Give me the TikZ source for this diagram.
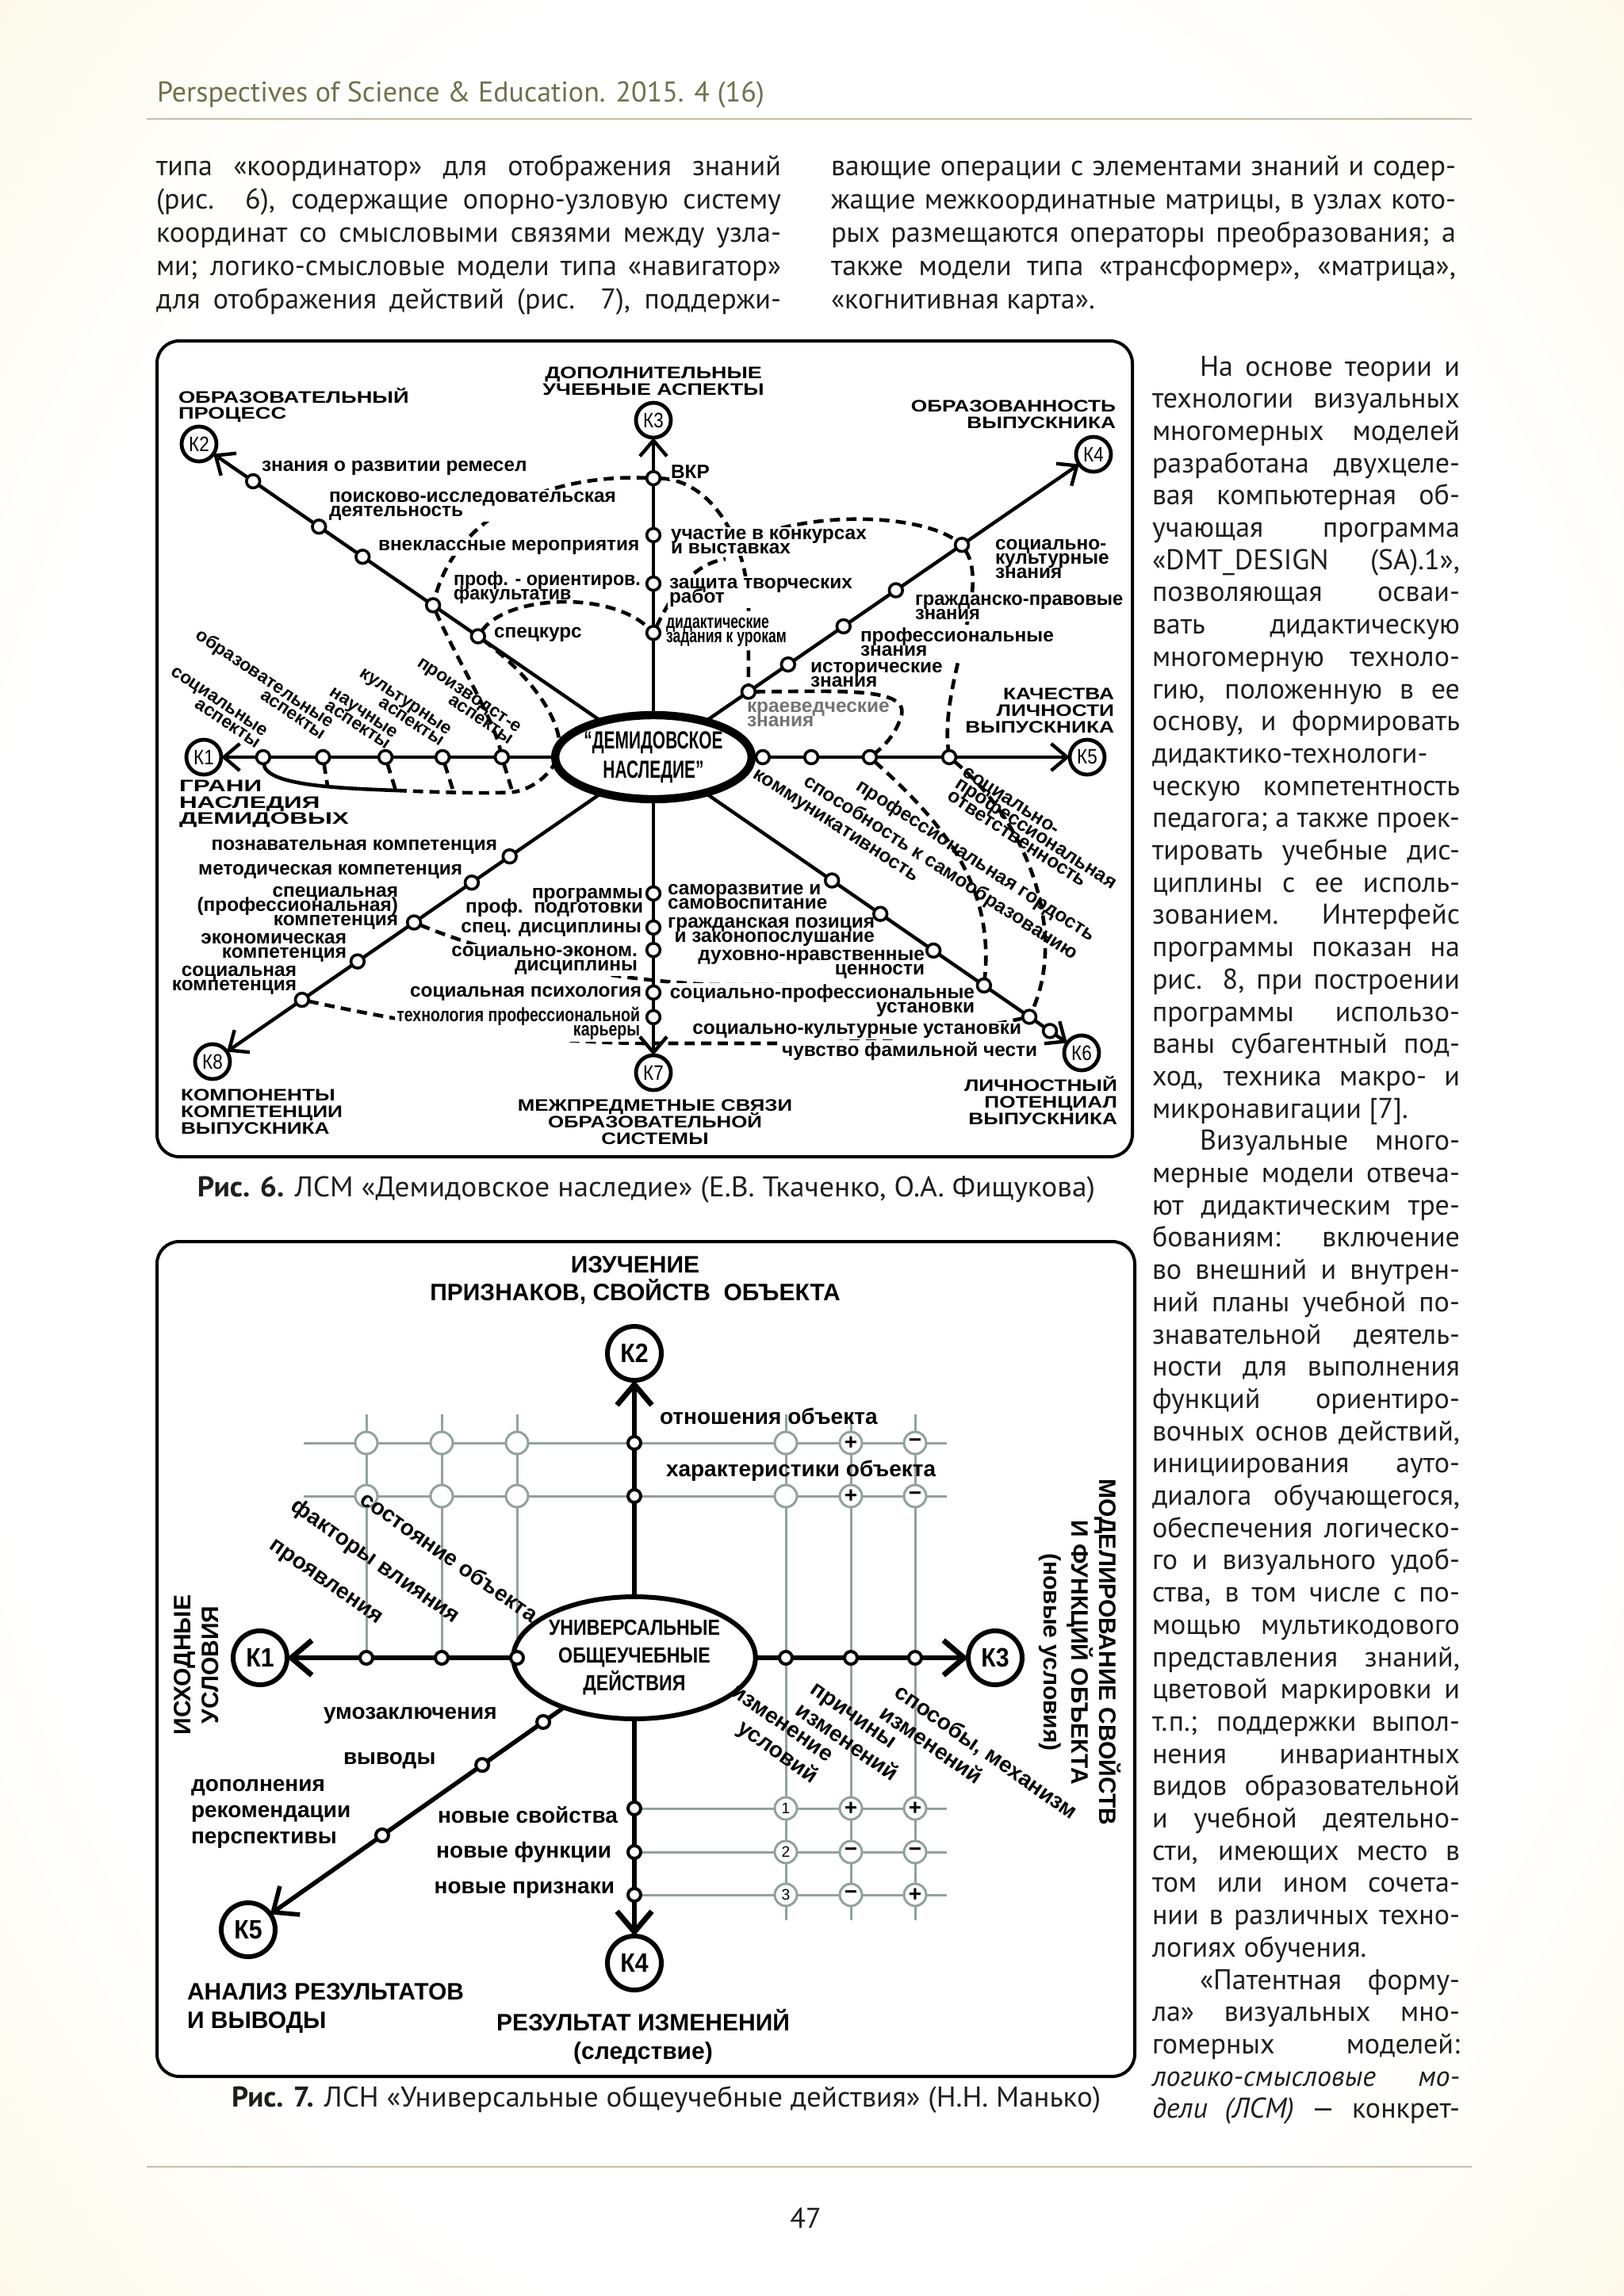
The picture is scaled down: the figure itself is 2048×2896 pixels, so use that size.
\documentclass[tikz,border=0pt]{standalone}
\usepackage{fontspec}
\usepackage{graphicx}
\usetikzlibrary{arrows.meta,calc,shapes.geometric}
\setmainfont{PT Sans}
\newfontfamily\arf{Liberation Sans}
\definecolor{pagecream}{RGB}{249,244,216}
\definecolor{pagecreamB}{RGB}{242,235,195}
\definecolor{headcol}{RGB}{110,112,76}
\definecolor{rulecol}{RGB}{196,190,160}
\definecolor{bodycol}{RGB}{30,30,30}
\definecolor{gridcol}{RGB}{145,162,157}
\pgfdeclarelayer{pagebg}\pgfdeclarelayer{under}\pgfdeclarelayer{labl}
\pgfsetlayers{pagebg,under,labl,main}
\pgfdeclareradialshading{pagesh}{\pgfpoint{0bp}{0bp}}{color(0bp)=(white); color(26bp)=(white); color(44bp)=(pagecream); color(72bp)=(pagecreamB)}
\newsavebox\jlbox
\newcommand\jl[2]{\sbox\jlbox{#2}\ifdim\wd\jlbox>#1\relax\resizebox{#1}{\height}{#2}\else\makebox[#1][s]{#2}\fi}
\def\stkL#1#2{\scalebox{#1}[1]{\vbox{\lineskiplimit=-30pt\let\\\cr\halign{##\hfil\cr#2\crcr}}}}
\def\stkR#1#2{\scalebox{#1}[1]{\vbox{\lineskiplimit=-30pt\let\\\cr\halign{\hfil##\cr#2\crcr}}}}
\def\stkC#1#2{\scalebox{#1}[1]{\vbox{\lineskiplimit=-30pt\let\\\cr\halign{\hfil##\hfil\cr#2\crcr}}}}
\newcommand\bodyf{\fontsize{9}{10.5}\selectfont}
\newcommand\fhead{\fontsize{9}{10}\selectfont}
\newcommand\fsix{\arf\bfseries\fontsize{6.1}{4.5}\selectfont}
\newcommand\fsixr{\arf\bfseries\fontsize{5.7}{4.4}\selectfont}
\newcommand\fcap{\arf\bfseries\fontsize{5.25}{5.2}\selectfont}
\newcommand\fkay{\arf\fontsize{6.6}{7}\selectfont}
\newcommand\fdem{\arf\bfseries\fontsize{7.8}{9.2}\selectfont}
\newcommand\fsev{\arf\bfseries\fontsize{7}{8.2}\selectfont}
\newcommand\fcapsev{\arf\bfseries\fontsize{7.5}{8.8}\selectfont}
\newcommand\funiv{\arf\bfseries\fontsize{6.9}{8.75}\selectfont}
\newcommand\fkayb{\arf\bfseries\fontsize{8.4}{9}\selectfont}
\newcommand\fgc{\arf\bfseries\fontsize{7}{7}\selectfont}
\newcommand\fgn{\arf\fontsize{4.8}{5}\selectfont}
\newcommand\tj[4]{\node[body] (#1) at (#2,#3+9) {\jl{197pt}{#4}};}
\newcommand\nlj[2]{\pgfmathsetmacro\yy{474+40.7*(#1-1)}\node[body] (n#1) at (1453,\yy) {\jl{97pt}{#2}};}
\newcommand\nli[2]{\pgfmathsetmacro\yy{474+40.7*(#1-1)}\node[body] (n#1) at (1513,\yy) {\jl{82pt}{#2}};}
\newcommand\nlf[2]{\pgfmathsetmacro\yy{474+40.7*(#1-1)}\node[body] (n#1) at (1453,\yy) {#2};}
\tikzset{
 every node/.style={inner sep=0pt, outer sep=0pt},
 body/.style={anchor=base west, font=\bodyf, text=bodycol},
 ax6/.style={line width=1.1pt, -{Straight Barb[length=5pt,width=8.5pt]}},
 k6/.style={circle, draw, fill=white, line width=1.2pt, minimum size=11pt, font=\fkay},
 dot6/.style={circle, draw, fill=white, line width=0.9pt, minimum size=4.2pt},
 dsh/.style={line width=1.15pt, dash pattern=on 3.2pt off 2pt},
 lb6/.style={font=\fsix, fill=white, inner sep=0.5pt},
 ln6/.style={font=\fsix},
 lr6/.style={font=\fsix, rotate=-33},
 lr6s/.style={font=\fsixr, rotate=-34},
 cp6/.style={font=\fcap},
 ell6/.style={ellipse, draw, fill=white, line width=2.6pt, minimum width=55pt, minimum height=26.5pt, font=\fdem},
 ax7/.style={line width=1.7pt, -{Straight Barb[length=6.5pt,width=11pt]}},
 k7/.style={circle, draw, fill=white, line width=1.5pt, minimum size=17pt, font=\fkayb},
 dot7/.style={circle, draw, fill=white, line width=1pt, minimum size=4pt},
 grd/.style={draw=gridcol, line width=0.75pt},
 gc/.style={circle, draw=gridcol, fill=white, line width=0.75pt, minimum size=7pt, font=\fgc},
 lb7/.style={font=\fsev},
 lr7/.style={font=\fsev, rotate=-35},
 cp7/.style={font=\fcapsev},
 ell7/.style={ellipse, draw, fill=white, line width=1.5pt, minimum width=62pt, minimum height=38.5pt, font=\funiv},
}
\begin{document}
\begin{tikzpicture}[x=0.25pt,y=-0.25pt]
\useasboundingbox (0,0) rectangle (2048,2896);
\begin{pgfonlayer}{pagebg}
\shade[shading=pagesh] (0,0) rectangle (2048,2896);
\draw[rulecol,line width=0.7pt] (185,150) -- (1856,150);
\draw[rulecol,line width=0.7pt] (185,2733) -- (1856,2733);
\draw[line width=1pt,fill=white,rounded corners=7pt] (198,430) rectangle (1428,1459);
\draw[line width=1pt,fill=white,rounded corners=7pt] (198,1566) rectangle (1431,2619);
\end{pgfonlayer}

% header, page number
\node[anchor=base west] (hdr) at (198,128) {\resizebox{191.5pt}{\height}{\color{headcol}\fhead Perspectives of Science \& Education. 2015. 4 (16)}};
\node[text=bodycol] (pgno) at (1016,2798) {\bodyf 47};

% top text
\tj{ta1}{197}{212}{типа «координатор» для отображения знаний}
\tj{ta2}{197}{254}{(рис. 6), содержащие опорно-узловую систему}
\tj{ta3}{197}{296}{координат со смысловыми связями между узла-}
\tj{ta4}{197}{338}{ми; логико-смысловые модели типа «навигатор»}
\tj{ta5}{197}{380}{для отображения действий (рис. 7), поддержи-}
\tj{tb1}{1048}{212}{вающие операции с элементами знаний и содер-}
\tj{tb2}{1048}{254}{жащие межкоординатные матрицы, в узлах кото-}
\tj{tb3}{1048}{296}{рых размещаются операторы преобразования; а}
\tj{tb4}{1048}{338}{также модели типа «трансформер», «матрица»,}
\node[body] (tb5) at (1048,389) {«когнитивная карта».};

% narrow column
\nli{1}{На основе теории и}
\nlj{2}{технологии визуальных}
\nlj{3}{многомерных моделей}
\nlj{4}{разработана двухцеле-}
\nlj{5}{вая компьютерная об-}
\nlj{6}{учающая программа}
\nlj{7}{«DMT\_DESIGN (SA).1»,}
\nlj{8}{позволяющая осваи-}
\nlj{9}{вать дидактическую}
\nlj{10}{многомерную техноло-}
\nlj{11}{гию, положенную в ее}
\nlj{12}{основу, и формировать}
\nlj{13}{дидактико-технологи-}
\nlj{14}{ческую компетентность}
\nlj{15}{педагога; а также проек-}
\nlj{16}{тировать учебные дис-}
\nlj{17}{циплины с ее исполь-}
\nlj{18}{зованием. Интерфейс}
\nlj{19}{программы показан на}
\nlj{20}{рис. 8, при построении}
\nlj{21}{программы использо-}
\nlj{22}{ваны субагентный под-}
\nlj{23}{ход, техника макро- и}
\nlf{24}{микронавигации [7].}
\nli{25}{Визуальные много-}
\nlj{26}{мерные модели отвеча-}
\nlj{27}{ют дидактическим тре-}
\nlj{28}{бованиям: включение}
\nlj{29}{во внешний и внутрен-}
\nlj{30}{ний планы учебной по-}
\nlj{31}{знавательной деятель-}
\nlj{32}{ности для выполнения}
\nlj{33}{функций ориентиро-}
\nlj{34}{вочных основ действий,}
\nlj{35}{инициирования ауто-}
\nlj{36}{диалога обучающегося,}
\nlj{37}{обеспечения логическо-}
\nlj{38}{го и визуального удоб-}
\nlj{39}{ства, в том числе с по-}
\nlj{40}{мощью мультикодового}
\nlj{41}{представления знаний,}
\nlj{42}{цветовой маркировки и}
\nlj{43}{т.п.; поддержки выпол-}
\nlj{44}{нения инвариантных}
\nlj{45}{видов образовательной}
\nlj{46}{и учебной деятельно-}
\nlj{47}{сти, имеющих место в}
\nlj{48}{том или ином сочета-}
\nlj{49}{нии в различных техно-}
\nlf{50}{логиях обучения.}
\nli{51}{«Патентная форму-}
\nlj{52}{ла» визуальных мно-}
\nlj{53}{гомерных моделей:}
\nlj{54}{\textit{логико-смысловые} \textit{мо-}}
\nlj{55}{\textit{дели} \textit{(ЛСМ)} — конкрет-}

% captions
\node[anchor=base west,text=bodycol] (cap6) at (249,1509) {\resizebox{283pt}{\height}{\bodyf\textbf{Рис. 6.} ЛСМ «Демидовское наследие» (Е.В. Ткаченко, О.А. Фищукова)}};
\node[anchor=base west,text=bodycol] (cap7) at (292,2657) {\resizebox{274pt}{\height}{\bodyf\textbf{Рис. 7.} ЛСН «Универсальные общеучебные действия» (Н.Н. Манько)}};

%================ FIG 6 ================
\node[ell6] (c6) at (824,955) {\stkC{0.67}{“ДЕМИДОВСКОЕ\\НАСЛЕДИЕ”}};
\node[k6] (k1) at (257,955) {\scalebox{0.85}[1]{К1}};
\node[k6] (k2) at (251,560) {\scalebox{0.85}[1]{К2}};
\node[k6] (k3) at (824,530) {\scalebox{0.85}[1]{К3}};
\node[k6] (k4) at (1379,573) {\scalebox{0.85}[1]{К4}};
\node[k6] (k5) at (1371,955) {\scalebox{0.85}[1]{К5}};
\node[k6] (k6) at (1364,1328) {\scalebox{0.85}[1]{К6}};
\node[k6] (k7) at (824,1353) {\scalebox{0.85}[1]{К7}};
\node[k6] (k8) at (268,1339) {\scalebox{0.85}[1]{К8}};
\foreach \k in {k1,k2,k3,k4,k5,k6,k7,k8} \draw[ax6] (c6) -- (\k);

\foreach \n/\t in {k1a/0.868,k1b/0.735,k1c/0.596,k1d/0.469,k1e/0.337} \node[dot6] (\n) at ($(c6)!\t!(k1)$) {};
\foreach \n/\t in {k2s/0.386,k2p/0.485,k2v/0.640,k2i/0.736,k2z/0.881} \node[dot6] (\n) at ($(c6)!\t!(k2)$) {};
\foreach \n/\t in {k3d/0.369,k3c/0.515,k3b/0.659,k3a/0.828} \node[dot6] (\n) at ($(c6)!\t!(k3)$) {};
\foreach \n/\t in {k4a/0.216,k4b/0.306,k4c/0.432,k4d/0.551,k4e/0.701} \node[dot6] (\n) at ($(c6)!\t!(k4)$) {};
\foreach \n/\t in {k5a/0.252,k5b/0.364,k5c/0.499,k5d/0.682} \node[dot6] (\n) at ($(c6)!\t!(k5)$) {};
\foreach \n/\t in {k6a/0.417,k6b/0.530,k6c/0.654,k6d/0.772,k6e/0.878,k6f/0.926} \node[dot6] (\n) at ($(c6)!\t!(k6)$) {};
\foreach \n/\t in {k7a/0.432,k7b/0.540,k7c/0.611,k7d/0.746,k7e/0.824} \node[dot6] (\n) at ($(c6)!\t!(k7)$) {};
\foreach \n/\t in {k8a/0.326,k8b/0.412,k8c/0.543,k8d/0.671,k8e/0.797} \node[dot6] (\n) at ($(c6)!\t!(k8)$) {};

\begin{pgfonlayer}{under}
\draw[dsh] (k3a) .. controls (690,598) and (575,650) .. (k2p) .. controls (575,830) and (622,905) .. (k1e) -- (646,998);
\draw[line width=1.15pt] (k1a) .. controls (335,990) and (420,994) .. (500,997);
\draw[dsh] (500,997) .. controls (570,1000) and (620,1001) .. (648,999);
\draw[dsh] (k2s) .. controls (680,860) and (718,925) .. (702,958) .. controls (692,980) and (670,995) .. (648,999);
\draw[dsh] (k1b) -- (413,991);
\draw[dsh] (k1c) -- (499,997);
\draw[dsh] (k1d) -- (572,999);
\draw[dsh] (k2s) .. controls (640,750) and (770,745) .. (k3d);
\draw[dsh] (k3a) .. controls (895,605) and (944,680) .. (944,770) -- (k4a);
\draw[dsh] (k3d) .. controls (845,755) and (870,712) .. (915,705);
\draw[dsh] (985,666) .. controls (1070,645) and (1170,655) .. (k4e);
\draw[dsh] (k4e) .. controls (1250,745) and (1185,860) .. (k5d) .. controls (1300,1040) and (1345,1180) .. (k6e);
\draw[dsh] (k4a) .. controls (1060,872) and (1150,866) .. (1136,905) .. controls (1128,930) and (1110,945) .. (k5c);
\draw[dsh] (k5c) .. controls (1180,1030) and (1255,1110) .. (k6d);
\draw[dsh] (k8c) .. controls (640,1212) and (770,1236) .. (900,1242) -- (k6d);
\draw[dsh] (k8e) .. controls (560,1300) and (700,1316) .. (824,1316) -- (1000,1316) .. controls (1120,1314) and (1220,1300) .. (k6e);
\end{pgfonlayer}

\begin{pgfonlayer}{labl}
% titles
\node[cp6,anchor=west] (t1) at (225,511) {\stkL{1.3}{ОБРАЗОВАТЕЛЬНЫЙ\\ПРОЦЕСС}};
\node[cp6] (t2) at (824,481) {\stkC{1.28}{ДОПОЛНИТЕЛЬНЫЕ\\УЧЕБНЫЕ АСПЕКТЫ}};
\node[cp6,anchor=east] (t3) at (1407,523) {\stkR{1.25}{ОБРАЗОВАННОСТЬ\\ВЫПУСКНИКА}};
\node[cp6,anchor=east] (t4) at (1405,896) {\stkR{1.25}{КАЧЕСТВА\\ЛИЧНОСТИ\\ВЫПУСКНИКА}};
\node[cp6,anchor=west] (t5) at (226,1014) {\stkL{1.5}{ГРАНИ\\НАСЛЕДИЯ\\ДЕМИДОВЫХ}};
\node[cp6,anchor=west] (t6) at (228,1402) {\stkL{1.25}{КОМПОНЕНТЫ\\КОМПЕТЕНЦИИ\\ВЫПУСКНИКА}};
\node[cp6] (t7) at (826,1415) {\stkC{1.23}{МЕЖПРЕДМЕТНЫЕ СВЯЗИ\\ОБРАЗОВАТЕЛЬНОЙ\\СИСТЕМЫ}};
\node[cp6,anchor=east] (t8) at (1409,1388) {\stkR{1.25}{ЛИЧНОСТНЫЙ\\ПОТЕНЦИАЛ\\ВЫПУСКНИКА}};
% K2 side
\node[lb6,anchor=west] (a1) at (328,590) {знания о развитии ремесел};
\node[lb6,anchor=west] (a2) at (413,638) {\stkL{1}{поисково-исследовательская\\деятельность}};
\node[lb6,anchor=west] (a3) at (475,690) {внеклассные мероприятия};
\node[ln6,anchor=west] (a4) at (572,741) {\stkL{0.95}{проф. - ориентиров.\\факультатив}};
\node[lb6,anchor=west] (a5) at (621,800) {спецкурс};
% K3 side
\node[lb6,anchor=west] (b1) at (844,595) {ВКР};
\node[lb6,anchor=west] (b2) at (844,683) {\stkL{1}{участие в конкурсах\\и выставках}};
\node[lb6,anchor=west] (b3) at (842,747) {\stkL{1}{защита творческих\\работ}};
\node[lb6,anchor=west] (b4) at (838,797) {\stkL{0.72}{дидактические\\задания к урокам}};
% K4 side
\node[lb6,anchor=west] (c1) at (1253,705) {\stkL{1}{социально-\\культурные\\знания}};
\node[lb6,anchor=west] (c2) at (1152,766) {\stkL{0.97}{гражданско-правовые\\знания}};
\node[lb6,anchor=west] (c3) at (1083,810) {\stkL{1}{профессиональные\\знания}};
\node[lb6,anchor=west] (c4) at (1020,851) {\stkL{1}{исторические\\знания}};
\node[lb6,anchor=west,text=black!55] (c5) at (940,901) {\stkL{1}{краеведческие\\знания}};
% K7 left
\node[ln6,anchor=east] (d1) at (811,1138) {\stkR{1}{программы\\проф.\ \ подготовки}};
\node[lb6,anchor=east] (d2) at (811,1172) {спец. дисциплины};
\node[lb6,anchor=east] (d3) at (806,1211) {\stkR{1}{социально-эконом.\\дисциплины}};
\node[lb6,anchor=east] (d4) at (811,1253) {социальная психология};
\node[lb6,anchor=east] (d5) at (809,1291) {\stkR{0.8}{технология профессиональной\\карьеры}};
% K7 right
\node[ln6,anchor=west] (e1) at (842,1131) {\stkL{1}{саморазвитие и\\самовоспитание}};
\node[lb6,anchor=east] (e2) at (1105,1175) {\stkR{1}{гражданская позиция\\и законопослушание}};
\node[lb6,anchor=east] (e3) at (1168,1216) {\stkR{1}{духовно-нравственные\\ценности}};
\node[lb6,anchor=east] (e4) at (1231,1262) {\stkR{1}{социально-профессиональные\\установки}};
\node[lb6,anchor=east] (e5) at (1290,1300) {социально-культурные установки};
\node[lb6,anchor=east] (e6) at (1310,1326) {чувство фамильной чести};
% K8 side
\node[lb6,anchor=east] (f1l) at (629,1068) {познавательная компетенция};
\node[lb6,anchor=east] (f2l) at (585,1099) {методическая компетенция};
\node[lb6,anchor=east] (f3l) at (504,1145) {\stkR{1}{специальная\\(профессиональная)\\компетенция}};
\node[lb6,anchor=east] (f4l) at (439,1195) {\stkR{1}{экономическая\\компетенция}};
\node[lb6,anchor=east] (f5l) at (376,1236) {\stkR{1}{социальная\\компетенция}};
\end{pgfonlayer}
% rotated labels fig6
\node[lr6s] (r1) at (272,892) {\stkR{1}{социальные\\аспекты}};
\node[lr6s] (r2) at (330,862) {\stkR{1}{образовательные\\аспекты}};
\node[lr6s] (r3) at (454,906) {\stkR{1}{научные\\аспекты}};
\node[lr6s] (r4) at (507,892) {\stkR{1}{культурные\\аспекты}};
\node[lr6s] (r5) at (587,884) {\stkR{1}{производст-е\\аспекты}};
\node[lr6] (r6) at (1053,1043) {коммуникативность};
\node[lr6] (r7) at (1186,1095) {способность к самообразованию};
\node[lr6] (r8) at (1230,1086) {профессиональная гордость};
\node[lr6] (r9) at (1306,1052) {\stkL{1}{социально-\\профессиональная\\ответственность}};

%================ FIG 7 ================
\node[ell7] (e7) at (800,2091) {\stkC{0.84}{УНИВЕРСАЛЬНЫЕ\\ОБЩЕУЧЕБНЫЕ\\ДЕЙСТВИЯ}};
\node[k7] (g1) at (328,2091) {\scalebox{0.9}[1]{К1}};
\node[k7] (g2) at (800,1707) {\scalebox{0.9}[1]{К2}};
\node[k7] (g3) at (1255,2091) {\scalebox{0.9}[1]{К3}};
\node[k7] (g4) at (800,2476) {\scalebox{0.9}[1]{К4}};
\node[k7] (g5) at (313,2434) {\scalebox{0.9}[1]{К5}};
\begin{pgfonlayer}{under}
\foreach \x in {462,557,652} \draw[grd] (\x,1784) -- (\x,2091);
\foreach \x in {991,1073,1154} \draw[grd] (\x,1784) -- (\x,2422);
\foreach \y in {1820,1887} \draw[grd] (383,\y) -- (1194,\y);
\foreach \y in {2281,2336,2390} \draw[grd] (800,\y) -- (1194,\y);
\end{pgfonlayer}
\foreach \n/\x/\y/\s in {q1/462/1820/, q2/557/1820/, q3/652/1820/, q4/462/1887/, q5/557/1887/, q6/652/1887/,
  q7/991/1820/, q8/1073/1820/+, q9/1154/1820/−, q10/991/1887/, q11/1073/1887/+, q12/1154/1887/−,
  q14/1073/2281/+, q15/1154/2281/+, q17/1073/2336/−, q18/1154/2336/−, q20/1073/2390/−, q21/1154/2390/+}
  \node[gc] (\n) at (\x,\y) {\s};
\node[gc,font=\fgn] (q13) at (991,2281) {1};
\node[gc,font=\fgn] (q16) at (991,2336) {2};
\node[gc,font=\fgn] (q19) at (991,2390) {3};
\foreach \k in {g1,g2,g3,g4} \draw[ax7] (e7) -- (\k);
\draw[ax7,line width=1.4pt] (e7) -- (g5);
\foreach \n/\x/\y in {v1/800/1820, v2/800/1887, v3/800/2281, v4/800/2336, v5/800/2390,
  h1/462/2091, h2/557/2091, h3/652/2091, h4/991/2091, h5/1073/2091, h6/1154/2091}
  \node[dot7] (\n) at (\x,\y) {};
\foreach \n/\t in {w1/0.236,w2/0.394,w3/0.653} \node[dot7] (\n) at ($(e7)!\t!(g5)$) {};
% labels fig7
\node[cp7] (m1) at (801,1615) {\stkC{1}{ИЗУЧЕНИЕ\\ПРИЗНАКОВ, СВОЙСТВ\ \ ОБЪЕКТА}};
\node[lb7,anchor=west] (m2) at (832,1786) {отношения объекта};
\node[lb7,anchor=west] (m3) at (840,1855) {характеристики объекта};
\node[lr7] (m4) at (567,1963) {состояние объекта};
\node[lr7] (m5) at (473,1970) {факторы влияния};
\node[lr7] (m6) at (410,1997) {проявления};
\node[lr7] (m7) at (975,2190) {\stkR{1}{изменение\\условий}};
\node[lr7] (m8) at (1077,2185) {\stkL{1}{причины\\изменений}};
\node[lr7] (m9) at (1235,2222) {\stkL{1}{способы, механизм\\изменений}};
\node[lb7,anchor=west] (m10) at (408,2164) {умозаключения};
\node[lb7,anchor=west] (m11) at (433,2221) {выводы};
\node[lb7,anchor=west] (m12) at (241,2288) {\stkL{1}{дополнения\\рекомендации\\перспективы}};
\node[lb7,anchor=east] (m13) at (779,2289) {новые свойства};
\node[lb7,anchor=east] (m14) at (771,2336) {новые функции};
\node[lb7,anchor=east] (m15) at (775,2384) {новые признаки};
\node[cp7,anchor=west] (m16) at (236,2533) {\stkL{1}{АНАЛИЗ РЕЗУЛЬТАТОВ\\И ВЫВОДЫ}};
\node[cp7] (m17) at (811,2569) {\stkC{1}{РЕЗУЛЬТАТ ИЗМЕНЕНИЙ\\(следствие)}};
\node[cp7,rotate=90] (m18) at (248,2100) {\stkC{1}{ИСХОДНЫЕ\\УСЛОВИЯ}};
\node[cp7,rotate=-90] (m19) at (1362,2084) {\stkC{1}{МОДЕЛИРОВАНИЕ СВОЙСТВ\\И ФУНКЦИЙ ОБЪЕКТА\\(новые условия)}};
\end{tikzpicture}
\end{document}
